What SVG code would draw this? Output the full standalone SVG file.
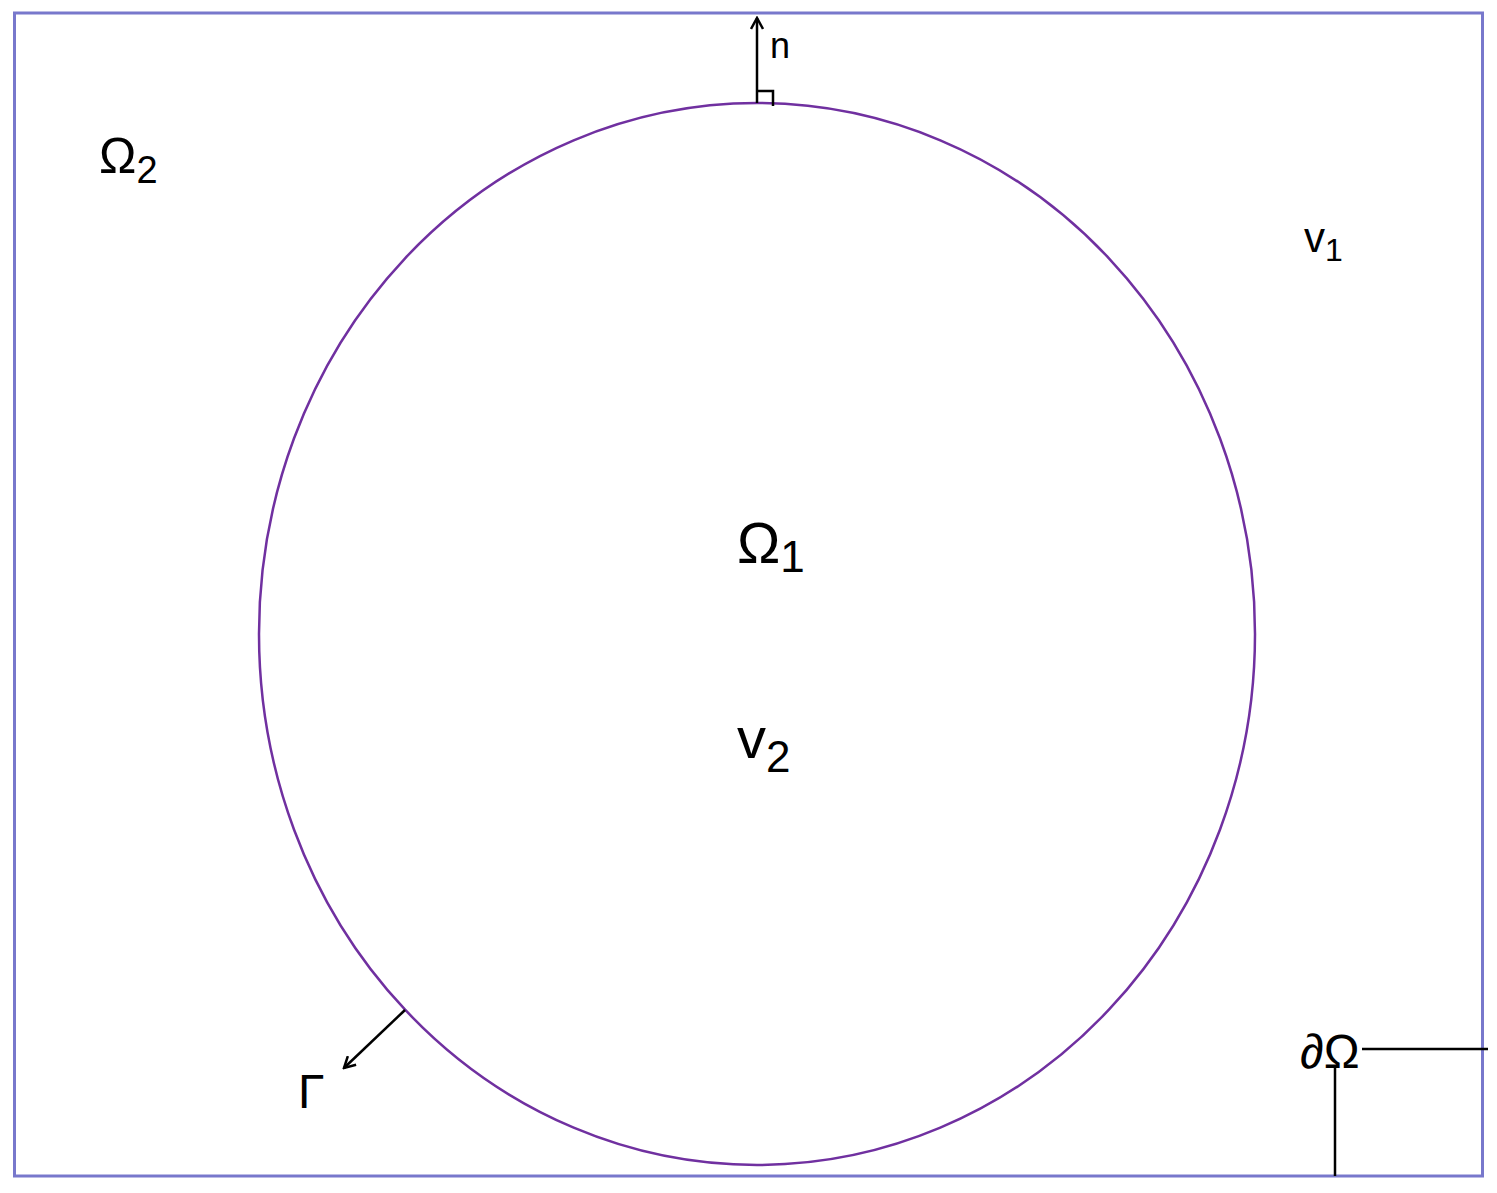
<svg xmlns="http://www.w3.org/2000/svg" width="1497" height="1193" viewBox="0 0 1497 1193">
<defs>
<style>
text{font-family:"Liberation Sans",Arial,sans-serif;fill:#000}
.ln{stroke:#000;stroke-width:2.5;fill:none}
</style>
<marker id="ah" viewBox="0 0 14 14" refX="12" refY="7" markerWidth="14" markerHeight="14" markerUnits="userSpaceOnUse" orient="auto"><path d="M1,1 L12,7 L1,13" fill="none" stroke="#000" stroke-width="2.5"/></marker>
</defs>
<rect width="1497" height="1193" fill="#fff"/>
<g id="domain"><rect x="14.5" y="13" width="1468" height="1163" fill="none" stroke="#7878CC" stroke-width="3"/></g>
<g id="interface"><ellipse cx="757" cy="634" rx="498" ry="531" fill="none" stroke="#7030A0" stroke-width="2.5"/></g>
<g id="connectors">
<line class="ln" x1="757" y1="103" x2="757" y2="18" marker-end="url(#ah)"/>
<path class="ln" d="M757,91 H773 V106" stroke-width="1.5"/>
<line class="ln" x1="405" y1="1010" x2="344" y2="1068" marker-end="url(#ah)"/>
<line class="ln" x1="1362" y1="1049" x2="1488" y2="1049"/>
<line class="ln" x1="1335" y1="1067" x2="1335" y2="1176"/>
</g>
<g id="labels">
<text x="770" y="58" font-size="36">n</text>
<text x="99" y="173" font-size="50">Ω<tspan font-size="38" dy="10">2</tspan></text>
<text x="1304" y="252" font-size="42">v<tspan font-size="32" dy="9">1</tspan></text>
<text x="737" y="563" font-size="58">Ω<tspan font-size="44" dy="9">1</tspan></text>
<text x="737" y="758" font-size="58">v<tspan font-size="44" dy="14">2</tspan></text>
<text x="298" y="1108" font-size="48">Γ</text>
<text x="1300" y="1068" font-size="48">∂Ω</text>
</g>
</svg>
